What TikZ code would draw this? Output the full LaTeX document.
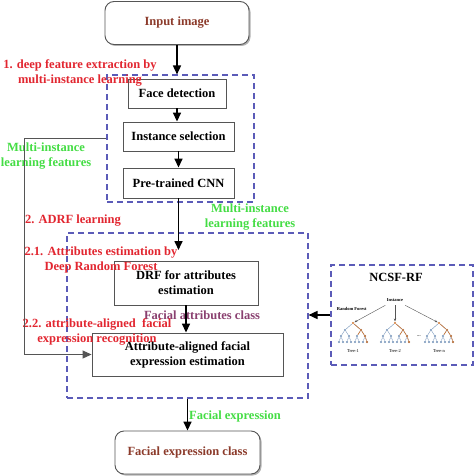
\documentclass[tikz,border=0pt]{standalone}
\usepackage{fontspec}
\setmainfont{Liberation Serif}
\usetikzlibrary{arrows.meta, positioning, shadows}
\definecolor{cbrown}{HTML}{8C3B2B}
\definecolor{cred}{HTML}{E22630}
\definecolor{cgreen}{HTML}{44DD44}
\definecolor{cplum}{HTML}{8A4070}
\definecolor{cdash}{HTML}{5B5BB8}
\definecolor{cgrey}{HTML}{555555}
\definecolor{ctree}{HTML}{7090B8}
\definecolor{cpath}{HTML}{D0742E}
\tikzset{
  every picture/.style={font=\bfseries\fontsize{12.5}{15}\selectfont, line width=0.9pt},
  box/.style={draw=cgrey, fill=white, align=center, inner sep=2pt},
  endbox/.style={box, rounded corners=9pt, text=cbrown,
    drop shadow={shadow xshift=1.5pt, shadow yshift=-1.5pt, fill=gray!60, opacity=1}},
  group/.style={draw=cdash, dash pattern=on 6pt off 4pt, line width=1.1pt},
  arrow/.style={-{Triangle[length=9pt, width=8pt]}, line width=1.6pt},
  link/.style={-{Triangle[length=9pt, width=8pt]}, draw=cgrey, line width=0.9pt},
  redlabel/.style={text=cred, align=center},
  greenlabel/.style={text=cgreen, align=center},
  tnode/.style={circle, fill=ctree, inner sep=0pt, minimum size=2.2pt},
  tedge/.style={draw=ctree, line width=0.4pt},
  tpath/.style={draw=cpath, line width=0.6pt},
  tiny/.style={font=\bfseries\fontsize{4.5}{5}\selectfont},
}

\begin{document}
\begin{tikzpicture}[x=1pt, y=-1pt]
  \useasboundingbox[fill=white] (0,0) rectangle (474,476);
  % groups
  \node[group, minimum width=147, minimum height=127] (mil) at (180.5,138.5) {};
  \node[group, minimum width=241, minimum height=165] (adrf) at (187.5,315.5) {};
  \node[group, minimum width=142, minimum height=100] (ncsf) at (402,315) {};
  % main boxes
  \node[endbox, minimum width=144, minimum height=43] (inimg) at (177,23) {Input image};
  \node[box, minimum width=98, minimum height=29] (face) at (177,93.5) {Face detection};
  \node[box, minimum width=111, minimum height=29] (insel) at (178.5,136.5) {Instance selection};
  \node[box, minimum width=111, minimum height=30] (cnn) at (178.5,183) {Pre-trained CNN};
  \node[box, minimum width=144, minimum height=44] (drf) at (186,283) {DRF for attributes\\estimation};
  \node[box, minimum width=191, minimum height=43] (attr) at (187.5,354.5) {Attribute-aligned facial\\expression estimation};
  \node[endbox, minimum width=145, minimum height=43] (outcls) at (187.5,452.5) {Facial expression class};
  \coordinate (drfin) at (178.5,250);
  % labels
  \node[redlabel] (lab1) at (80,73) {1. deep feature extraction by\\multi-instance learning};
  \node[greenlabel] (milfa) at (46,156) {Multi-instance\\learning features};
  \node[greenlabel] (milfb) at (250,217.5) {Multi-instance\\learning features};
  \node[redlabel] (lab2) at (73,221) {2. ADRF learning};
  \node[redlabel] (lab21) at (101,259.5) {2.1. Attributes estimation by\\Deep Random Forest};
  \node[text=cplum] (facattr) at (202,315) {Facial attributes class};
  \node[redlabel] (lab22) at (97,331.5) {2.2. attribute-aligned~~facial\\expression recognition};
  \node[greenlabel] (facexp) at (235,416) {Facial expression};
  % connectors
  \draw[arrow] (inimg.south) -- (inimg.south |- mil.north);
  \draw[arrow] (face.south) -- (face.south |- insel.north);
  \draw[arrow] (insel.south) -- (insel.south |- cnn.north);
  \draw[arrow] (cnn.south) -- (drfin);
  \draw[arrow] (drf.south) -- (drf.south |- attr.north);
  \draw[arrow] (adrf.south) -- (outcls.north);
  \draw[link] (mil.west) -- ++(-82,0) |- (attr.west);
  \draw[arrow] (ncsf.west) -- (ncsf.west -| adrf.east);
  % NCSF-RF
  \node (ncsftitle) at (396,277) {NCSF-RF};
  \node[tiny] (instance) at (395,300) {Instance};
  \node[tiny, anchor=west] (rf) at (333,309) {Random Forest};
  \node[tiny] (dots) at (419,336) {...};
  \foreach \t/\x/\lab in {1/353/Tree-1, 2/395/Tree-2, 3/439/Tree-n} {
    \node[tnode, fill=cpath] (t\t) at (\x,323) {};
    \draw[-{Stealth[length=3pt]}, line width=0.4pt, draw=cgrey] (instance) -- (t\t);
    \foreach \s/\dx in {l/-8, r/8} {
      \node[tnode] (t\t\s) at (\x+\dx,330) {};
      \draw[tedge] (t\t) -- (t\t\s);
      \foreach \u/\ex in {l/-4, r/4} {
        \node[tnode] (t\t\s\u) at (\x+\dx+\ex,336) {};
        \draw[tedge] (t\t\s) -- (t\t\s\u);
        \foreach \v/\fx in {l/-2, r/2} {
          \node[tnode] (t\t\s\u\v) at (\x+\dx+\ex+\fx,342) {};
          \draw[tedge] (t\t\s\u) -- (t\t\s\u\v);
        }
      }
    }
    \draw[tpath] (t\t) -- (t\t r) -- (t\t rr) -- (t\t rrr);
    \draw[tpath] (t\t r) -- (t\t rl);
    \node[tnode, fill=cpath] at (t\t r) {};
    \node[tnode, fill=cpath] at (t\t rr) {};
    \node[tnode, fill=cpath] at (t\t rrr) {};
    \node[tiny, font=\fontsize{4.5}{5}\selectfont] (lab\t) at (\x,351) {\lab};
  }
\end{tikzpicture}
\end{document}
